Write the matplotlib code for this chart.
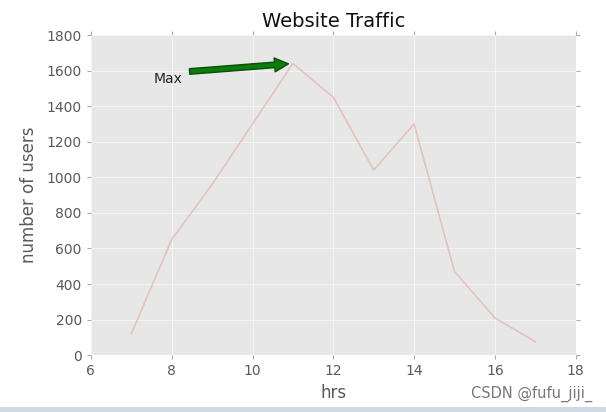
import matplotlib
matplotlib.use("Agg")
import matplotlib.pyplot as plt
from matplotlib.patches import Rectangle

# data
hrs = [7, 8, 9, 10, 11, 12, 13, 14, 15, 16, 17]
users = [120, 650, 960, 1300, 1640, 1450, 1040, 1300, 470, 210, 75]
x_ticks = [6, 8, 10, 12, 14, 16, 18]
y_ticks = [0, 200, 400, 600, 800, 1000, 1200, 1400, 1600, 1800]
max_label = "Max"
max_text_pos = (7.55, 1530)

GRAY_TXT = "#5a5a5a"

fig = plt.figure(figsize=(6.06, 4.12), dpi=100)
ax = fig.add_axes([0.150, 0.138, 0.800, 0.777])
ax.set_facecolor("#E7E7E7")
for s in ax.spines.values():
    s.set_visible(False)
ax.grid(True, color="white", linewidth=0.6, alpha=0.6)
ax.set_axisbelow(True)

ax.plot(hrs, users, color="#e2c3c0", linewidth=1.2)

i_max = users.index(max(users))
ax.annotate(max_label, xy=(hrs[i_max], users[i_max]), xytext=max_text_pos,
            fontsize=10, color="#222222",
            arrowprops=dict(facecolor="#0a7d0a", edgecolor="#0b4d0b", shrink=0.04,
                            width=4, headwidth=10, headlength=10))

ax.set_xlim(6, 18)
ax.set_ylim(0, 1800)
ax.set_xticks(x_ticks)
ax.set_yticks(y_ticks)
ax.tick_params(direction="out", length=3, color="#aaaaaa", labelcolor=GRAY_TXT,
               labelsize=10, top=True, right=True)

ax.set_title("Website Traffic", fontsize=14, color="#111111", pad=6)
ax.set_xlabel("hrs", fontsize=12, color=GRAY_TXT, labelpad=4)
ax.set_ylabel("number of users", fontsize=12, color=GRAY_TXT, labelpad=6)

# watermark and screenshot border
fig.text(0.978, 0.043, "CSDN @fufu_jiji_", ha="right", va="center",
         fontsize=10.5, color="#777777")
fig.patches.append(Rectangle((0, 0), 1, 0.011, transform=fig.transFigure,
                             facecolor="#cdd9e5", edgecolor="none"))

fig.savefig("out.png", dpi=100)
